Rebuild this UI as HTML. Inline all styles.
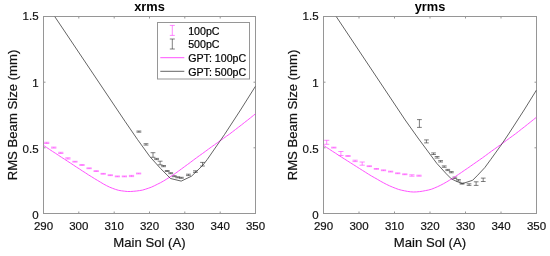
<!DOCTYPE html>
<html lang="en"><head><meta charset="utf-8"><title>RMS Beam Size vs Main Sol</title>
<style>html,body{margin:0;padding:0;background:#fff;}body{width:550px;height:256px;overflow:hidden;}</style></head>
<body>
<svg width="550" height="256" viewBox="0 0 550 256" style="display:block" font-family="'Liberation Sans', Arial, sans-serif">
<rect width="550" height="256" fill="#fff"/>
<clipPath id="c0"><rect x="43.5" y="16.5" width="212.0" height="197.0"/></clipPath>
<rect x="43.5" y="16.5" width="212.0" height="197.0" fill="none" stroke="#969696" stroke-width="1"/>
<path d="M78.8,213.5v-2M78.8,16.5v2M114.2,213.5v-2M114.2,16.5v2M149.5,213.5v-2M149.5,16.5v2M184.8,213.5v-2M184.8,16.5v2M220.2,213.5v-2M220.2,16.5v2M43.5,147.8h2M255.5,147.8h-2M43.5,82.2h2M255.5,82.2h-2" stroke="#969696" stroke-width="1" fill="none"/>
<text x="43.5" y="230.1" font-size="11.5" text-anchor="middle" fill="#111" stroke="#111" stroke-width="0.2">290</text>
<text x="78.8" y="230.1" font-size="11.5" text-anchor="middle" fill="#111" stroke="#111" stroke-width="0.2">300</text>
<text x="114.2" y="230.1" font-size="11.5" text-anchor="middle" fill="#111" stroke="#111" stroke-width="0.2">310</text>
<text x="149.5" y="230.1" font-size="11.5" text-anchor="middle" fill="#111" stroke="#111" stroke-width="0.2">320</text>
<text x="184.8" y="230.1" font-size="11.5" text-anchor="middle" fill="#111" stroke="#111" stroke-width="0.2">330</text>
<text x="220.2" y="230.1" font-size="11.5" text-anchor="middle" fill="#111" stroke="#111" stroke-width="0.2">340</text>
<text x="255.5" y="230.1" font-size="11.5" text-anchor="middle" fill="#111" stroke="#111" stroke-width="0.2">350</text>
<text x="38.6" y="218.8" font-size="11.5" text-anchor="end" fill="#111" stroke="#111" stroke-width="0.2">0</text>
<text x="38.6" y="152.5" font-size="11.5" text-anchor="end" fill="#111" stroke="#111" stroke-width="0.2">0.5</text>
<text x="38.6" y="86.9" font-size="11.5" text-anchor="end" fill="#111" stroke="#111" stroke-width="0.2">1</text>
<text x="38.6" y="20.1" font-size="11.5" text-anchor="end" fill="#111" stroke="#111" stroke-width="0.2">1.5</text>
<text x="149.5" y="247.4" font-size="13.15" text-anchor="middle" fill="#111" stroke="#111" stroke-width="0.2">Main Sol (A)</text>
<text transform="translate(17.0,115.0) rotate(-90)" font-size="13.15" text-anchor="middle" fill="#111" stroke="#111" stroke-width="0.2">RMS Beam Size (mm)</text>
<text x="149.5" y="10.8" font-size="12.8" font-weight="bold" text-anchor="middle" fill="#000">xrms</text>
<g clip-path="url(#c0)">
<path d="M46.7,142.3V143.5M44.1,142.3H49.3M44.1,143.5H49.3M53.8,147.1V148.1M51.1,147.1H56.4M51.1,148.1H56.4M60.8,152.3V153.5M58.2,152.3H63.4M58.2,153.5H63.4M67.9,157.8V159.0M65.3,157.8H70.5M65.3,159.0H70.5M75.0,161.3V162.1M72.4,161.3H77.5M72.4,162.1H77.5M82.0,164.6V165.4M79.4,164.6H84.6M79.4,165.4H84.6M89.1,167.9V168.7M86.5,167.9H91.7M86.5,168.7H91.7M96.2,170.7V171.5M93.6,170.7H98.8M93.6,171.5H98.8M103.2,173.4V174.2M100.6,173.4H105.8M100.6,174.2H105.8M110.3,174.8V175.6M107.7,174.8H112.9M107.7,175.6H112.9M117.3,176.0V176.8M114.8,176.0H119.9M114.8,176.8H119.9M124.4,176.0V176.8M121.8,176.0H127.0M121.8,176.8H127.0M131.5,175.4V176.6M128.9,175.4H134.1M128.9,176.6H134.1M138.6,173.1V173.9M136.0,173.1H141.2M136.0,173.9H141.2" stroke="#ff40ff" stroke-width="0.62" fill="none"/>
<path d="M138.9,131.0V132.2M136.5,131.0H141.3M136.5,132.2H141.3M146.0,143.7V145.1M143.6,143.7H148.4M143.6,145.1H148.4M153.0,152.7V157.3M150.6,152.7H155.4M150.6,157.3H155.4M156.6,158.4V159.6M154.2,158.4H159.0M154.2,159.6H159.0M160.1,161.2V164.8M157.7,161.2H162.5M157.7,164.8H162.5M163.6,165.5V166.7M161.2,165.5H166.0M161.2,166.7H166.0M167.2,170.5V171.5M164.8,170.5H169.6M164.8,171.5H169.6M170.7,172.7V173.7M168.3,172.7H173.1M168.3,173.7H173.1M174.2,175.7V176.7M171.8,175.7H176.6M171.8,176.7H176.6M177.8,176.8V177.8M175.4,176.8H180.2M175.4,177.8H180.2M181.3,177.3V178.3M178.9,177.3H183.7M178.9,178.3H183.7M188.4,174.2V175.6M186.0,174.2H190.8M186.0,175.6H190.8M195.4,170.8V172.4M193.0,170.8H197.8M193.0,172.4H197.8M202.5,162.4V166.0M200.1,162.4H204.9M200.1,166.0H204.9" stroke="#303030" stroke-width="0.62" fill="none"/>
<path d="M43.5,145.4 L46.5,147.4 L49.5,149.4 L52.5,151.4 L55.5,153.3 L58.5,155.3 L61.5,157.3 L64.5,159.2 L67.5,161.2 L70.5,163.1 L73.5,165.1 L76.5,167.1 L79.5,169.0 L82.5,171.0 L85.5,172.9 L88.5,174.9 L91.5,176.7 L94.5,178.6 L97.5,180.4 L100.5,182.2 L103.5,184.0 L106.5,185.6 L109.5,187.1 L112.5,188.3 L115.5,189.4 L118.5,190.3 L121.5,190.8 L124.5,191.2 L127.5,191.5 L130.5,191.5 L133.5,191.3 L136.5,191.0 L139.5,190.6 L142.5,190.1 L145.5,189.2 L148.5,188.2 L151.5,187.1 L154.5,185.7 L157.5,184.2 L160.5,182.7 L163.5,181.0 L166.5,179.2 L169.5,177.3 L172.5,175.4 L175.5,173.3 L178.5,171.1 L181.5,168.9 L184.5,166.7 L187.5,164.5 L190.5,162.3 L193.5,160.0 L196.5,157.8 L199.5,155.6 L202.5,153.5 L205.5,151.3 L208.5,149.1 L211.5,146.9 L214.5,144.8 L217.5,142.6 L220.5,140.5 L223.5,138.4 L226.5,136.2 L229.5,134.1 L232.5,131.8 L235.5,129.5 L238.5,127.2 L241.5,124.9 L244.5,122.5 L247.5,120.2 L250.5,117.8 L253.5,115.4 L255.5,113.8" stroke="#ff40ff" stroke-width="0.9" fill="none"/>
<path d="M54.7,16.5 L125.0,121.3 L137.5,139.5 L150.0,156.8 L160.5,168.4 L170.5,178.5 L181.2,181.1 L191.5,176.2 L202.8,165.3 L207.3,159.4 L219.9,141.2 L224.4,134.7 L240.5,110.0 L255.5,86.2" stroke="#303030" stroke-width="0.75" fill="none" stroke-linejoin="round"/>
</g>
<clipPath id="c1"><rect x="323.5" y="16.5" width="213.0" height="197.0"/></clipPath>
<rect x="323.5" y="16.5" width="213.0" height="197.0" fill="none" stroke="#969696" stroke-width="1"/>
<path d="M359.0,213.5v-2M359.0,16.5v2M394.5,213.5v-2M394.5,16.5v2M430.0,213.5v-2M430.0,16.5v2M465.5,213.5v-2M465.5,16.5v2M501.0,213.5v-2M501.0,16.5v2M323.5,147.8h2M536.5,147.8h-2M323.5,82.2h2M536.5,82.2h-2" stroke="#969696" stroke-width="1" fill="none"/>
<text x="323.5" y="230.1" font-size="11.5" text-anchor="middle" fill="#111" stroke="#111" stroke-width="0.2">290</text>
<text x="359.0" y="230.1" font-size="11.5" text-anchor="middle" fill="#111" stroke="#111" stroke-width="0.2">300</text>
<text x="394.5" y="230.1" font-size="11.5" text-anchor="middle" fill="#111" stroke="#111" stroke-width="0.2">310</text>
<text x="430.0" y="230.1" font-size="11.5" text-anchor="middle" fill="#111" stroke="#111" stroke-width="0.2">320</text>
<text x="465.5" y="230.1" font-size="11.5" text-anchor="middle" fill="#111" stroke="#111" stroke-width="0.2">330</text>
<text x="501.0" y="230.1" font-size="11.5" text-anchor="middle" fill="#111" stroke="#111" stroke-width="0.2">340</text>
<text x="536.5" y="230.1" font-size="11.5" text-anchor="middle" fill="#111" stroke="#111" stroke-width="0.2">350</text>
<text x="318.6" y="218.8" font-size="11.5" text-anchor="end" fill="#111" stroke="#111" stroke-width="0.2">0</text>
<text x="318.6" y="152.5" font-size="11.5" text-anchor="end" fill="#111" stroke="#111" stroke-width="0.2">0.5</text>
<text x="318.6" y="86.9" font-size="11.5" text-anchor="end" fill="#111" stroke="#111" stroke-width="0.2">1</text>
<text x="318.6" y="20.1" font-size="11.5" text-anchor="end" fill="#111" stroke="#111" stroke-width="0.2">1.5</text>
<text x="430.0" y="247.4" font-size="13.15" text-anchor="middle" fill="#111" stroke="#111" stroke-width="0.2">Main Sol (A)</text>
<text transform="translate(297.0,115.0) rotate(-90)" font-size="13.15" text-anchor="middle" fill="#111" stroke="#111" stroke-width="0.2">RMS Beam Size (mm)</text>
<text x="430.0" y="10.8" font-size="12.8" font-weight="bold" text-anchor="middle" fill="#000">yrms</text>
<g clip-path="url(#c1)">
<path d="M326.7,140.3V144.3M324.1,140.3H329.3M324.1,144.3H329.3M333.8,147.2V148.0M331.2,147.2H336.4M331.2,148.0H336.4M340.9,151.5V155.5M338.3,151.5H343.5M338.3,155.5H343.5M348.0,155.6V156.4M345.4,155.6H350.6M345.4,156.4H350.6M355.1,160.2V161.6M352.5,160.2H357.7M352.5,161.6H357.7M362.2,162.0V165.2M359.6,162.0H364.8M359.6,165.2H364.8M369.3,165.8V166.6M366.7,165.8H371.9M366.7,166.6H371.9M376.4,168.5V169.3M373.8,168.5H379.0M373.8,169.3H379.0M383.5,169.9V170.7M380.9,169.9H386.1M380.9,170.7H386.1M390.6,171.2V172.0M388.0,171.2H393.2M388.0,172.0H393.2M397.7,172.9V173.7M395.1,172.9H400.3M395.1,173.7H400.3M404.8,173.9V174.7M402.2,173.9H407.4M402.2,174.7H407.4M411.9,174.8V176.2M409.3,174.8H414.5M409.3,176.2H414.5M419.0,175.2V176.2M416.4,175.2H421.6M416.4,176.2H421.6" stroke="#ff40ff" stroke-width="0.62" fill="none"/>
<path d="M419.4,119.6V127.4M417.0,119.6H421.8M417.0,127.4H421.8M426.4,139.9V142.9M424.1,139.9H428.8M424.1,142.9H428.8M433.6,152.9V154.5M431.2,152.9H435.9M431.2,154.5H435.9M437.1,156.5V158.1M434.7,156.5H439.5M434.7,158.1H439.5M440.6,160.6V162.0M438.2,160.6H443.0M438.2,162.0H443.0M444.2,165.9V167.3M441.8,165.9H446.6M441.8,167.3H446.6M447.8,169.4V170.6M445.4,169.4H450.1M445.4,170.6H450.1M451.3,171.6V172.8M448.9,171.6H453.7M448.9,172.8H453.7M454.9,177.1V178.5M452.5,177.1H457.2M452.5,178.5H457.2M458.4,179.6V181.0M456.0,179.6H460.8M456.0,181.0H460.8M462.0,183.1V184.1M459.6,183.1H464.4M459.6,184.1H464.4M469.1,183.8V185.4M466.7,183.8H471.4M466.7,185.4H471.4M476.1,181.8V185.4M473.8,181.8H478.5M473.8,185.4H478.5M483.2,178.1V181.5M480.9,178.1H485.6M480.9,181.5H485.6" stroke="#303030" stroke-width="0.62" fill="none"/>
<path d="M323.5,145.4 L326.5,147.4 L329.5,149.3 L332.5,151.3 L335.5,153.2 L338.5,155.2 L341.5,157.1 L344.5,159.0 L347.5,160.9 L350.5,162.8 L353.5,164.7 L356.5,166.6 L359.5,168.5 L362.5,170.4 L365.5,172.3 L368.5,174.2 L371.5,176.0 L374.5,177.7 L377.5,179.4 L380.5,181.2 L383.5,182.8 L386.5,184.4 L389.5,185.8 L392.5,187.1 L395.5,188.3 L398.5,189.4 L401.5,190.2 L404.5,190.8 L407.5,191.4 L410.5,191.8 L413.5,192.0 L416.5,191.9 L419.5,191.6 L422.5,191.2 L425.5,190.6 L428.5,190.0 L431.5,189.2 L434.5,188.0 L437.5,186.7 L440.5,185.3 L443.5,183.7 L446.5,182.0 L449.5,180.2 L452.5,178.4 L455.5,176.4 L458.5,174.4 L461.5,172.4 L464.5,170.3 L467.5,168.3 L470.5,166.2 L473.5,164.1 L476.5,162.0 L479.5,159.9 L482.5,157.8 L485.5,155.6 L488.5,153.4 L491.5,151.2 L494.5,149.1 L497.5,146.9 L500.5,144.8 L503.5,142.6 L506.5,140.4 L509.5,138.2 L512.5,136.0 L515.5,133.8 L518.5,131.5 L521.5,129.1 L524.5,126.8 L527.5,124.4 L530.5,122.0 L533.5,119.6 L536.5,117.2" stroke="#ff40ff" stroke-width="0.9" fill="none"/>
<path d="M336.2,16.5 L405.2,120.0 L418.0,138.0 L436.8,163.4 L440.2,167.1 L446.2,173.7 L451.3,178.8 L456.4,181.3 L462.5,183.6 L472.6,180.3 L477.7,175.2 L484.8,167.6 L490.8,159.4 L502.0,143.8 L508.6,134.0 L524.1,110.0 L536.5,90.0" stroke="#303030" stroke-width="0.75" fill="none" stroke-linejoin="round"/>
</g>
<rect x="157.5" y="22.5" width="92.0" height="56.5" fill="#fff" stroke="#969696" stroke-width="1"/>
<text x="188.2" y="34.8" font-size="10.65" fill="#000" stroke="#000" stroke-width="0.2">100pC</text>
<text x="188.2" y="48.4" font-size="10.65" fill="#000" stroke="#000" stroke-width="0.2">500pC</text>
<text x="188.2" y="62.1" font-size="10.65" fill="#000" stroke="#000" stroke-width="0.2">GPT: 100pC</text>
<text x="188.2" y="75.7" font-size="10.65" fill="#000" stroke="#000" stroke-width="0.2">GPT: 500pC</text>
<path d="M172.3,25.4V35.4M169.8,25.4H174.8M169.8,35.4H174.8" stroke="#ff40ff" stroke-width="0.62" fill="none"/>
<path d="M172.3,39V49M169.8,39H174.8M169.8,49H174.8" stroke="#303030" stroke-width="0.62" fill="none"/>
<path d="M160.3,57.7H184.3" stroke="#ff40ff" stroke-width="0.9"/>
<path d="M160.3,71.3H184.3" stroke="#303030" stroke-width="0.75"/>
</svg>
</body></html>
